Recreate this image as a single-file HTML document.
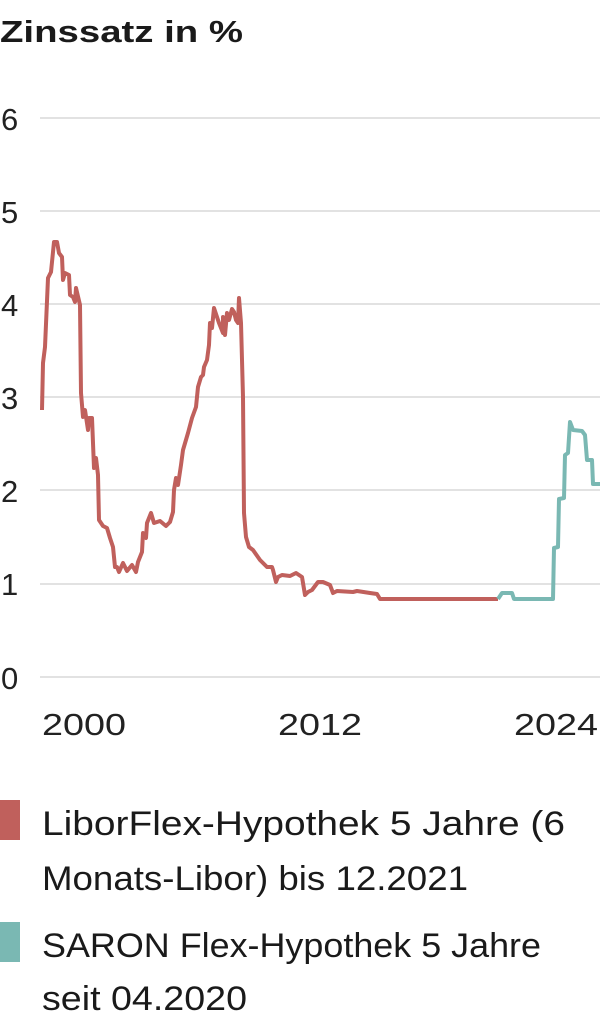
<!DOCTYPE html>
<html><head><meta charset="utf-8"><style>
html,body{margin:0;padding:0;background:#fff;}
svg{display:block;font-family:"Liberation Sans",sans-serif;}
</style></head><body>
<svg width="600" height="1026" viewBox="0 0 600 1026" xmlns="http://www.w3.org/2000/svg">
<text x="0" y="42" font-size="31" font-weight="bold" fill="#1a1a1a" textLength="243" lengthAdjust="spacingAndGlyphs">Zinssatz in %</text>
<g stroke="#e2e2e2" stroke-width="2">
<line x1="40" y1="118" x2="600" y2="118"/><line x1="40" y1="211" x2="600" y2="211"/>
<line x1="40" y1="304" x2="600" y2="304"/><line x1="40" y1="397" x2="600" y2="397"/>
<line x1="40" y1="490" x2="600" y2="490"/><line x1="40" y1="584" x2="600" y2="584"/>
<line x1="40" y1="677" x2="600" y2="677"/>
</g>
<g font-size="31" fill="#222">
<text x="1" y="130">6</text><text x="1" y="223">5</text><text x="1" y="316">4</text>
<text x="1" y="409">3</text><text x="1" y="502">2</text><text x="1" y="595">1</text>
<text x="1" y="689">0</text>
<text x="42" y="735" textLength="84" lengthAdjust="spacingAndGlyphs">2000</text>
<text x="278" y="735" textLength="84" lengthAdjust="spacingAndGlyphs">2012</text>
<text x="514" y="735" textLength="84" lengthAdjust="spacingAndGlyphs">2024</text>
</g>
<polyline fill="none" stroke="#c0605c" stroke-width="4" stroke-linejoin="round" points="42,410 43,363 45,347 48,278 51,272 54,242 57,242 59,253 62,257 63,280 65,273 69,275 70,295 73,297 75,302 76,288 80,305 81,393 83,417 85,410 88,430 89,418 92,418 94,468 96,458 98,475 99,520 103,526 107,528 110,538 113,547 115,567 117,567 119,572 123,563 127,571 132,565 136,572 138,562 142,552 143,533 146,538 147,523 151,513 154,523 160,521 166,526 170,522 173,512 174,490 176,478 178,485 181,465 183,450 188,433 192,418 196,407 198,387 201,377 203,375 204,367 207,360 209,345 210,323 212,328 214,308 217,317 219,323 223,333 223,317 225,335 227,313 229,320 232,309 234,312 236,320 238,323 239,298 241,323 243,397 244,513 246,537 249,547 253,550 260,560 267,567 272,567 273,570 276,582 278,577 282,575 290,576 296,573 302,577 305,595 308,592 312,590 318,582 323,582 330,585 333,593 337,591 353,592 357,591 370,593 377,594 380,599 498,599"/>
<polyline fill="none" stroke="#7ab8b3" stroke-width="4" stroke-linejoin="round" points="498,599 502,593 512,593 514,599 553,599 554,548 558,547 559,499 564,498 565,455 568,453 570,422 573,430 582,431 585,435 587,460 592,460 593,484 600,484"/>
<rect x="0" y="800" width="20" height="40" fill="#c0605c"/>
<rect x="0" y="922" width="20" height="40" fill="#7ab8b3"/>
<g font-size="34" fill="#1a1a1a">
<text x="42" y="835" textLength="523" lengthAdjust="spacingAndGlyphs">LiborFlex-Hypothek 5 Jahre (6</text>
<text x="42" y="890" textLength="426" lengthAdjust="spacingAndGlyphs">Monats-Libor) bis 12.2021</text>
<text x="42" y="957" textLength="499" lengthAdjust="spacingAndGlyphs">SARON Flex-Hypothek 5 Jahre</text>
<text x="42" y="1010" textLength="205" lengthAdjust="spacingAndGlyphs">seit 04.2020</text>
</g>
</svg>
</body></html>
